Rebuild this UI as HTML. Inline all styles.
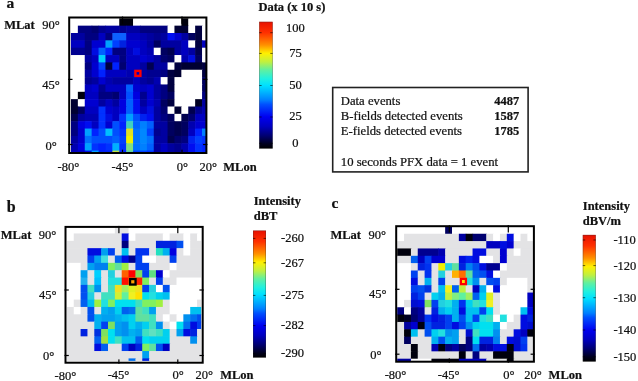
<!DOCTYPE html>
<html><head><meta charset="utf-8"><title>Figure</title>
<style>html,body{margin:0;padding:0;background:#fff}body{width:638px;height:381px;overflow:hidden}</style>
</head><body>
<svg width="638" height="381" viewBox="0 0 638 381" style="display:block">
<defs>
<linearGradient id="jet" x1="0" y1="0" x2="0" y2="1">
<stop offset="0" stop-color="#e81000"/>
<stop offset="0.086" stop-color="#ff3000"/>
<stop offset="0.183" stop-color="#ff9000"/>
<stop offset="0.249" stop-color="#fff000"/>
<stop offset="0.317" stop-color="#c0f040"/>
<stop offset="0.38" stop-color="#60f0a0"/>
<stop offset="0.448" stop-color="#20f0e0"/>
<stop offset="0.503" stop-color="#00e0ff"/>
<stop offset="0.57" stop-color="#00a8ff"/>
<stop offset="0.617" stop-color="#0080ff"/>
<stop offset="0.652" stop-color="#0050ff"/>
<stop offset="0.751" stop-color="#0000f0"/>
<stop offset="0.826" stop-color="#0000c0"/>
<stop offset="0.90" stop-color="#000070"/>
<stop offset="0.963" stop-color="#000020"/>
<stop offset="1" stop-color="#000000"/>
</linearGradient>
<filter id="bl" x="0" y="0" width="638" height="381" filterUnits="userSpaceOnUse"><feGaussianBlur stdDeviation="0.7"/></filter>
</defs>
<rect width="638" height="381" fill="#fff"/>
<g filter="url(#bl)">
<rect x="70.95" y="18.30" width="48.90" height="7.95" fill="#ffffff"/>
<rect x="119.25" y="18.30" width="14.40" height="7.95" fill="#000008"/>
<rect x="133.05" y="18.30" width="48.90" height="7.95" fill="#ffffff"/>
<rect x="181.35" y="18.30" width="7.50" height="7.95" fill="#000008"/>
<rect x="188.25" y="18.30" width="18.15" height="7.95" fill="#ffffff"/>
<rect x="70.95" y="25.65" width="7.50" height="7.95" fill="#ffffff"/>
<rect x="77.85" y="25.65" width="14.40" height="7.95" fill="#000080"/>
<rect x="91.65" y="25.65" width="7.50" height="7.95" fill="#000070"/>
<rect x="98.55" y="25.65" width="7.50" height="7.95" fill="#000090"/>
<rect x="105.45" y="25.65" width="14.40" height="7.95" fill="#0000a0"/>
<rect x="119.25" y="25.65" width="7.50" height="7.95" fill="#000090"/>
<rect x="126.15" y="25.65" width="14.40" height="7.95" fill="#0000a0"/>
<rect x="139.95" y="25.65" width="28.20" height="7.95" fill="#000080"/>
<rect x="167.55" y="25.65" width="7.50" height="7.95" fill="#ffffff"/>
<rect x="174.45" y="25.65" width="14.40" height="7.95" fill="#000030"/>
<rect x="188.25" y="25.65" width="7.50" height="7.95" fill="#ffffff"/>
<rect x="195.15" y="25.65" width="7.50" height="7.95" fill="#000040"/>
<rect x="202.05" y="25.65" width="4.35" height="7.95" fill="#ffffff"/>
<rect x="70.95" y="33.00" width="14.40" height="7.95" fill="#0000a0"/>
<rect x="84.75" y="33.00" width="14.40" height="7.95" fill="#000080"/>
<rect x="98.55" y="33.00" width="7.50" height="7.95" fill="#0000c0"/>
<rect x="105.45" y="33.00" width="7.50" height="7.95" fill="#000080"/>
<rect x="112.35" y="33.00" width="14.40" height="7.95" fill="#1060ff"/>
<rect x="126.15" y="33.00" width="14.40" height="7.95" fill="#0000c0"/>
<rect x="139.95" y="33.00" width="7.50" height="7.95" fill="#0000b0"/>
<rect x="146.85" y="33.00" width="7.50" height="7.95" fill="#0000a0"/>
<rect x="153.75" y="33.00" width="7.50" height="7.95" fill="#000090"/>
<rect x="160.65" y="33.00" width="7.50" height="7.95" fill="#0000a0"/>
<rect x="167.55" y="33.00" width="7.50" height="7.95" fill="#0010f0"/>
<rect x="174.45" y="33.00" width="7.50" height="7.95" fill="#0000d0"/>
<rect x="181.35" y="33.00" width="7.50" height="7.95" fill="#0000a0"/>
<rect x="188.25" y="33.00" width="7.50" height="7.95" fill="#000060"/>
<rect x="195.15" y="33.00" width="7.50" height="7.95" fill="#000040"/>
<rect x="202.05" y="33.00" width="4.35" height="7.95" fill="#ffffff"/>
<rect x="70.95" y="40.35" width="14.40" height="7.95" fill="#0000c0"/>
<rect x="84.75" y="40.35" width="7.50" height="7.95" fill="#000080"/>
<rect x="91.65" y="40.35" width="14.40" height="7.95" fill="#0000d0"/>
<rect x="105.45" y="40.35" width="7.50" height="7.95" fill="#00a0ff"/>
<rect x="112.35" y="40.35" width="7.50" height="7.95" fill="#0040ff"/>
<rect x="119.25" y="40.35" width="7.50" height="7.95" fill="#0020e0"/>
<rect x="126.15" y="40.35" width="14.40" height="7.95" fill="#0000d0"/>
<rect x="139.95" y="40.35" width="7.50" height="7.95" fill="#0000c0"/>
<rect x="146.85" y="40.35" width="7.50" height="7.95" fill="#0000a0"/>
<rect x="153.75" y="40.35" width="7.50" height="7.95" fill="#000060"/>
<rect x="160.65" y="40.35" width="21.30" height="7.95" fill="#0000a0"/>
<rect x="181.35" y="40.35" width="7.50" height="7.95" fill="#0000c0"/>
<rect x="188.25" y="40.35" width="7.50" height="7.95" fill="#ffffff"/>
<rect x="195.15" y="40.35" width="7.50" height="7.95" fill="#000040"/>
<rect x="202.05" y="40.35" width="4.35" height="7.95" fill="#0000c0"/>
<rect x="70.95" y="47.70" width="14.40" height="7.95" fill="#000090"/>
<rect x="84.75" y="47.70" width="7.50" height="7.95" fill="#000080"/>
<rect x="91.65" y="47.70" width="7.50" height="7.95" fill="#0010e0"/>
<rect x="98.55" y="47.70" width="7.50" height="7.95" fill="#0060ff"/>
<rect x="105.45" y="47.70" width="7.50" height="7.95" fill="#0020ff"/>
<rect x="112.35" y="47.70" width="14.40" height="7.95" fill="#000080"/>
<rect x="126.15" y="47.70" width="7.50" height="7.95" fill="#0000c0"/>
<rect x="133.05" y="47.70" width="7.50" height="7.95" fill="#0010e0"/>
<rect x="139.95" y="47.70" width="7.50" height="7.95" fill="#0000c0"/>
<rect x="146.85" y="47.70" width="7.50" height="7.95" fill="#0000b0"/>
<rect x="153.75" y="47.70" width="7.50" height="7.95" fill="#ffffff"/>
<rect x="160.65" y="47.70" width="7.50" height="7.95" fill="#000060"/>
<rect x="167.55" y="47.70" width="7.50" height="7.95" fill="#000050"/>
<rect x="174.45" y="47.70" width="7.50" height="7.95" fill="#0000a0"/>
<rect x="181.35" y="47.70" width="7.50" height="7.95" fill="#0000c0"/>
<rect x="188.25" y="47.70" width="7.50" height="7.95" fill="#0000a0"/>
<rect x="195.15" y="47.70" width="7.50" height="7.95" fill="#000050"/>
<rect x="202.05" y="47.70" width="4.35" height="7.95" fill="#ffffff"/>
<rect x="70.95" y="55.05" width="14.40" height="7.95" fill="#ffffff"/>
<rect x="84.75" y="55.05" width="7.50" height="7.95" fill="#0000a0"/>
<rect x="91.65" y="55.05" width="7.50" height="7.95" fill="#0000c0"/>
<rect x="98.55" y="55.05" width="7.50" height="7.95" fill="#00d0ff"/>
<rect x="105.45" y="55.05" width="14.40" height="7.95" fill="#0000c0"/>
<rect x="119.25" y="55.05" width="7.50" height="7.95" fill="#000080"/>
<rect x="126.15" y="55.05" width="14.40" height="7.95" fill="#0000c0"/>
<rect x="139.95" y="55.05" width="7.50" height="7.95" fill="#0000d0"/>
<rect x="146.85" y="55.05" width="7.50" height="7.95" fill="#0000c0"/>
<rect x="153.75" y="55.05" width="7.50" height="7.95" fill="#0000a0"/>
<rect x="160.65" y="55.05" width="7.50" height="7.95" fill="#000070"/>
<rect x="167.55" y="55.05" width="7.50" height="7.95" fill="#000060"/>
<rect x="174.45" y="55.05" width="7.50" height="7.95" fill="#ffffff"/>
<rect x="181.35" y="55.05" width="7.50" height="7.95" fill="#0000b0"/>
<rect x="188.25" y="55.05" width="7.50" height="7.95" fill="#0010e0"/>
<rect x="195.15" y="55.05" width="7.50" height="7.95" fill="#000060"/>
<rect x="202.05" y="55.05" width="4.35" height="7.95" fill="#ffffff"/>
<rect x="70.95" y="62.40" width="14.40" height="7.95" fill="#ffffff"/>
<rect x="84.75" y="62.40" width="7.50" height="7.95" fill="#000080"/>
<rect x="91.65" y="62.40" width="7.50" height="7.95" fill="#0000d0"/>
<rect x="98.55" y="62.40" width="7.50" height="7.95" fill="#0040ff"/>
<rect x="105.45" y="62.40" width="7.50" height="7.95" fill="#000040"/>
<rect x="112.35" y="62.40" width="7.50" height="7.95" fill="#0020ff"/>
<rect x="119.25" y="62.40" width="7.50" height="7.95" fill="#000070"/>
<rect x="126.15" y="62.40" width="14.40" height="7.95" fill="#0000c0"/>
<rect x="139.95" y="62.40" width="7.50" height="7.95" fill="#0000a0"/>
<rect x="146.85" y="62.40" width="7.50" height="7.95" fill="#000050"/>
<rect x="153.75" y="62.40" width="14.40" height="7.95" fill="#0000a0"/>
<rect x="167.55" y="62.40" width="7.50" height="7.95" fill="#ffffff"/>
<rect x="174.45" y="62.40" width="7.50" height="7.95" fill="#000040"/>
<rect x="181.35" y="62.40" width="21.30" height="7.95" fill="#000030"/>
<rect x="202.05" y="62.40" width="4.35" height="7.95" fill="#000040"/>
<rect x="70.95" y="69.75" width="14.40" height="7.95" fill="#ffffff"/>
<rect x="84.75" y="69.75" width="7.50" height="7.95" fill="#0000a0"/>
<rect x="91.65" y="69.75" width="7.50" height="7.95" fill="#0000d0"/>
<rect x="98.55" y="69.75" width="7.50" height="7.95" fill="#0020ff"/>
<rect x="105.45" y="69.75" width="21.30" height="7.95" fill="#0000c0"/>
<rect x="126.15" y="69.75" width="7.50" height="7.95" fill="#0000b0"/>
<rect x="133.05" y="69.75" width="7.50" height="7.95" fill="#0000c0"/>
<rect x="139.95" y="69.75" width="7.50" height="7.95" fill="#0000a0"/>
<rect x="146.85" y="69.75" width="14.40" height="7.95" fill="#000090"/>
<rect x="160.65" y="69.75" width="7.50" height="7.95" fill="#000080"/>
<rect x="167.55" y="69.75" width="7.50" height="7.95" fill="#000040"/>
<rect x="174.45" y="69.75" width="7.50" height="7.95" fill="#000030"/>
<rect x="181.35" y="69.75" width="21.30" height="7.95" fill="#ffffff"/>
<rect x="202.05" y="69.75" width="4.35" height="7.95" fill="#000040"/>
<rect x="70.95" y="77.10" width="14.40" height="7.95" fill="#ffffff"/>
<rect x="84.75" y="77.10" width="7.50" height="7.95" fill="#000090"/>
<rect x="91.65" y="77.10" width="7.50" height="7.95" fill="#0000a0"/>
<rect x="98.55" y="77.10" width="7.50" height="7.95" fill="#0000d0"/>
<rect x="105.45" y="77.10" width="7.50" height="7.95" fill="#0000b0"/>
<rect x="112.35" y="77.10" width="21.30" height="7.95" fill="#0000a0"/>
<rect x="133.05" y="77.10" width="7.50" height="7.95" fill="#0000c0"/>
<rect x="139.95" y="77.10" width="7.50" height="7.95" fill="#0000a0"/>
<rect x="146.85" y="77.10" width="7.50" height="7.95" fill="#000090"/>
<rect x="153.75" y="77.10" width="7.50" height="7.95" fill="#0000b0"/>
<rect x="160.65" y="77.10" width="7.50" height="7.95" fill="#ffffff"/>
<rect x="167.55" y="77.10" width="7.50" height="7.95" fill="#000040"/>
<rect x="174.45" y="77.10" width="28.20" height="7.95" fill="#ffffff"/>
<rect x="202.05" y="77.10" width="4.35" height="7.95" fill="#000060"/>
<rect x="70.95" y="84.45" width="14.40" height="7.95" fill="#ffffff"/>
<rect x="84.75" y="84.45" width="7.50" height="7.95" fill="#0000c0"/>
<rect x="91.65" y="84.45" width="7.50" height="7.95" fill="#0000d0"/>
<rect x="98.55" y="84.45" width="7.50" height="7.95" fill="#000090"/>
<rect x="105.45" y="84.45" width="21.30" height="7.95" fill="#0000c0"/>
<rect x="126.15" y="84.45" width="7.50" height="7.95" fill="#0060ff"/>
<rect x="133.05" y="84.45" width="7.50" height="7.95" fill="#0000d0"/>
<rect x="139.95" y="84.45" width="7.50" height="7.95" fill="#0000c0"/>
<rect x="146.85" y="84.45" width="7.50" height="7.95" fill="#0000d0"/>
<rect x="153.75" y="84.45" width="7.50" height="7.95" fill="#0000a0"/>
<rect x="160.65" y="84.45" width="7.50" height="7.95" fill="#000080"/>
<rect x="167.55" y="84.45" width="7.50" height="7.95" fill="#000040"/>
<rect x="174.45" y="84.45" width="28.20" height="7.95" fill="#ffffff"/>
<rect x="202.05" y="84.45" width="4.35" height="7.95" fill="#000060"/>
<rect x="70.95" y="91.80" width="7.50" height="7.95" fill="#ffffff"/>
<rect x="77.85" y="91.80" width="7.50" height="7.95" fill="#000008"/>
<rect x="84.75" y="91.80" width="14.40" height="7.95" fill="#0000c0"/>
<rect x="98.55" y="91.80" width="14.40" height="7.95" fill="#000080"/>
<rect x="112.35" y="91.80" width="7.50" height="7.95" fill="#000070"/>
<rect x="119.25" y="91.80" width="7.50" height="7.95" fill="#0000c0"/>
<rect x="126.15" y="91.80" width="7.50" height="7.95" fill="#0050ff"/>
<rect x="133.05" y="91.80" width="7.50" height="7.95" fill="#0000e0"/>
<rect x="139.95" y="91.80" width="7.50" height="7.95" fill="#000090"/>
<rect x="146.85" y="91.80" width="7.50" height="7.95" fill="#0000d0"/>
<rect x="153.75" y="91.80" width="7.50" height="7.95" fill="#0000a0"/>
<rect x="160.65" y="91.80" width="7.50" height="7.95" fill="#000080"/>
<rect x="167.55" y="91.80" width="7.50" height="7.95" fill="#000060"/>
<rect x="174.45" y="91.80" width="28.20" height="7.95" fill="#ffffff"/>
<rect x="202.05" y="91.80" width="4.35" height="7.95" fill="#000080"/>
<rect x="70.95" y="99.15" width="7.50" height="7.95" fill="#000030"/>
<rect x="77.85" y="99.15" width="7.50" height="7.95" fill="#ffffff"/>
<rect x="84.75" y="99.15" width="14.40" height="7.95" fill="#0000d0"/>
<rect x="98.55" y="99.15" width="7.50" height="7.95" fill="#0000a0"/>
<rect x="105.45" y="99.15" width="7.50" height="7.95" fill="#0000c0"/>
<rect x="112.35" y="99.15" width="7.50" height="7.95" fill="#0000a0"/>
<rect x="119.25" y="99.15" width="7.50" height="7.95" fill="#0000e0"/>
<rect x="126.15" y="99.15" width="7.50" height="7.95" fill="#0060ff"/>
<rect x="133.05" y="99.15" width="7.50" height="7.95" fill="#0010f0"/>
<rect x="139.95" y="99.15" width="7.50" height="7.95" fill="#0000a0"/>
<rect x="146.85" y="99.15" width="7.50" height="7.95" fill="#0000d0"/>
<rect x="153.75" y="99.15" width="7.50" height="7.95" fill="#0000b0"/>
<rect x="160.65" y="99.15" width="7.50" height="7.95" fill="#000060"/>
<rect x="167.55" y="99.15" width="7.50" height="7.95" fill="#000040"/>
<rect x="174.45" y="99.15" width="21.30" height="7.95" fill="#ffffff"/>
<rect x="195.15" y="99.15" width="7.50" height="7.95" fill="#000020"/>
<rect x="202.05" y="99.15" width="4.35" height="7.95" fill="#0000a0"/>
<rect x="70.95" y="106.50" width="7.50" height="7.95" fill="#000030"/>
<rect x="77.85" y="106.50" width="7.50" height="7.95" fill="#000060"/>
<rect x="84.75" y="106.50" width="14.40" height="7.95" fill="#0000c0"/>
<rect x="98.55" y="106.50" width="7.50" height="7.95" fill="#0030ff"/>
<rect x="105.45" y="106.50" width="7.50" height="7.95" fill="#0000d0"/>
<rect x="112.35" y="106.50" width="7.50" height="7.95" fill="#0000c0"/>
<rect x="119.25" y="106.50" width="7.50" height="7.95" fill="#0000e0"/>
<rect x="126.15" y="106.50" width="7.50" height="7.95" fill="#0060ff"/>
<rect x="133.05" y="106.50" width="7.50" height="7.95" fill="#0010f0"/>
<rect x="139.95" y="106.50" width="7.50" height="7.95" fill="#0000c0"/>
<rect x="146.85" y="106.50" width="7.50" height="7.95" fill="#0010e0"/>
<rect x="153.75" y="106.50" width="7.50" height="7.95" fill="#0000a0"/>
<rect x="160.65" y="106.50" width="7.50" height="7.95" fill="#000070"/>
<rect x="167.55" y="106.50" width="7.50" height="7.95" fill="#ffffff"/>
<rect x="174.45" y="106.50" width="7.50" height="7.95" fill="#000030"/>
<rect x="181.35" y="106.50" width="7.50" height="7.95" fill="#ffffff"/>
<rect x="188.25" y="106.50" width="7.50" height="7.95" fill="#000050"/>
<rect x="195.15" y="106.50" width="7.50" height="7.95" fill="#000090"/>
<rect x="202.05" y="106.50" width="4.35" height="7.95" fill="#0000b0"/>
<rect x="70.95" y="113.85" width="7.50" height="7.95" fill="#000050"/>
<rect x="77.85" y="113.85" width="7.50" height="7.95" fill="#0000a0"/>
<rect x="84.75" y="113.85" width="14.40" height="7.95" fill="#0000b0"/>
<rect x="98.55" y="113.85" width="7.50" height="7.95" fill="#0030ff"/>
<rect x="105.45" y="113.85" width="7.50" height="7.95" fill="#0010e0"/>
<rect x="112.35" y="113.85" width="7.50" height="7.95" fill="#0000c0"/>
<rect x="119.25" y="113.85" width="7.50" height="7.95" fill="#0030ff"/>
<rect x="126.15" y="113.85" width="7.50" height="7.95" fill="#00a0ff"/>
<rect x="133.05" y="113.85" width="7.50" height="7.95" fill="#0050ff"/>
<rect x="139.95" y="113.85" width="7.50" height="7.95" fill="#0020f0"/>
<rect x="146.85" y="113.85" width="7.50" height="7.95" fill="#0010f0"/>
<rect x="153.75" y="113.85" width="7.50" height="7.95" fill="#0000a0"/>
<rect x="160.65" y="113.85" width="7.50" height="7.95" fill="#000080"/>
<rect x="167.55" y="113.85" width="7.50" height="7.95" fill="#000060"/>
<rect x="174.45" y="113.85" width="7.50" height="7.95" fill="#ffffff"/>
<rect x="181.35" y="113.85" width="7.50" height="7.95" fill="#000050"/>
<rect x="188.25" y="113.85" width="7.50" height="7.95" fill="#000070"/>
<rect x="195.15" y="113.85" width="11.25" height="7.95" fill="#0000c0"/>
<rect x="70.95" y="121.20" width="7.50" height="7.95" fill="#000080"/>
<rect x="77.85" y="121.20" width="7.50" height="7.95" fill="#0000e0"/>
<rect x="84.75" y="121.20" width="7.50" height="7.95" fill="#0010f0"/>
<rect x="91.65" y="121.20" width="7.50" height="7.95" fill="#0000c0"/>
<rect x="98.55" y="121.20" width="7.50" height="7.95" fill="#0030ff"/>
<rect x="105.45" y="121.20" width="7.50" height="7.95" fill="#0000d0"/>
<rect x="112.35" y="121.20" width="7.50" height="7.95" fill="#0050ff"/>
<rect x="119.25" y="121.20" width="7.50" height="7.95" fill="#0020ff"/>
<rect x="126.15" y="121.20" width="7.50" height="7.95" fill="#40d0c0"/>
<rect x="133.05" y="121.20" width="7.50" height="7.95" fill="#0060ff"/>
<rect x="139.95" y="121.20" width="7.50" height="7.95" fill="#0080ff"/>
<rect x="146.85" y="121.20" width="7.50" height="7.95" fill="#0060ff"/>
<rect x="153.75" y="121.20" width="14.40" height="7.95" fill="#0000a0"/>
<rect x="167.55" y="121.20" width="7.50" height="7.95" fill="#000060"/>
<rect x="174.45" y="121.20" width="7.50" height="7.95" fill="#000050"/>
<rect x="181.35" y="121.20" width="7.50" height="7.95" fill="#000060"/>
<rect x="188.25" y="121.20" width="7.50" height="7.95" fill="#0000b0"/>
<rect x="195.15" y="121.20" width="11.25" height="7.95" fill="#0000d0"/>
<rect x="70.95" y="128.55" width="7.50" height="7.95" fill="#000080"/>
<rect x="77.85" y="128.55" width="7.50" height="7.95" fill="#0000d0"/>
<rect x="84.75" y="128.55" width="7.50" height="7.95" fill="#00a0ff"/>
<rect x="91.65" y="128.55" width="7.50" height="7.95" fill="#0020ff"/>
<rect x="98.55" y="128.55" width="7.50" height="7.95" fill="#0050ff"/>
<rect x="105.45" y="128.55" width="7.50" height="7.95" fill="#00c0ff"/>
<rect x="112.35" y="128.55" width="7.50" height="7.95" fill="#0050ff"/>
<rect x="119.25" y="128.55" width="7.50" height="7.95" fill="#0030ff"/>
<rect x="126.15" y="128.55" width="7.50" height="7.95" fill="#e0e020"/>
<rect x="133.05" y="128.55" width="7.50" height="7.95" fill="#0070ff"/>
<rect x="139.95" y="128.55" width="7.50" height="7.95" fill="#0088ff"/>
<rect x="146.85" y="128.55" width="7.50" height="7.95" fill="#0040ff"/>
<rect x="153.75" y="128.55" width="7.50" height="7.95" fill="#000090"/>
<rect x="160.65" y="128.55" width="7.50" height="7.95" fill="#0000a0"/>
<rect x="167.55" y="128.55" width="7.50" height="7.95" fill="#000060"/>
<rect x="174.45" y="128.55" width="7.50" height="7.95" fill="#000050"/>
<rect x="181.35" y="128.55" width="7.50" height="7.95" fill="#000060"/>
<rect x="188.25" y="128.55" width="7.50" height="7.95" fill="#0000c0"/>
<rect x="195.15" y="128.55" width="7.50" height="7.95" fill="#0020ff"/>
<rect x="202.05" y="128.55" width="4.35" height="7.95" fill="#0080ff"/>
<rect x="70.95" y="135.90" width="7.50" height="7.95" fill="#0000a0"/>
<rect x="77.85" y="135.90" width="7.50" height="7.95" fill="#0000d0"/>
<rect x="84.75" y="135.90" width="7.50" height="7.95" fill="#0070ff"/>
<rect x="91.65" y="135.90" width="21.30" height="7.95" fill="#0050ff"/>
<rect x="112.35" y="135.90" width="7.50" height="7.95" fill="#0060ff"/>
<rect x="119.25" y="135.90" width="7.50" height="7.95" fill="#0040ff"/>
<rect x="126.15" y="135.90" width="7.50" height="7.95" fill="#f0f000"/>
<rect x="133.05" y="135.90" width="7.50" height="7.95" fill="#0070ff"/>
<rect x="139.95" y="135.90" width="7.50" height="7.95" fill="#0088ff"/>
<rect x="146.85" y="135.90" width="7.50" height="7.95" fill="#0070ff"/>
<rect x="153.75" y="135.90" width="14.40" height="7.95" fill="#0000a0"/>
<rect x="167.55" y="135.90" width="7.50" height="7.95" fill="#000050"/>
<rect x="174.45" y="135.90" width="7.50" height="7.95" fill="#000070"/>
<rect x="181.35" y="135.90" width="7.50" height="7.95" fill="#000080"/>
<rect x="188.25" y="135.90" width="7.50" height="7.95" fill="#0020f0"/>
<rect x="195.15" y="135.90" width="7.50" height="7.95" fill="#0040ff"/>
<rect x="202.05" y="135.90" width="4.35" height="7.95" fill="#0030ff"/>
<rect x="70.95" y="143.25" width="7.50" height="7.95" fill="#0000b0"/>
<rect x="77.85" y="143.25" width="7.50" height="7.95" fill="#0000e0"/>
<rect x="84.75" y="143.25" width="7.50" height="7.95" fill="#00a0ff"/>
<rect x="91.65" y="143.25" width="7.50" height="7.95" fill="#0030ff"/>
<rect x="98.55" y="143.25" width="7.50" height="7.95" fill="#0020ff"/>
<rect x="105.45" y="143.25" width="7.50" height="7.95" fill="#0030ff"/>
<rect x="112.35" y="143.25" width="7.50" height="7.95" fill="#00b0ff"/>
<rect x="119.25" y="143.25" width="7.50" height="7.95" fill="#0030ff"/>
<rect x="126.15" y="143.25" width="7.50" height="7.95" fill="#80e080"/>
<rect x="133.05" y="143.25" width="7.50" height="7.95" fill="#0070ff"/>
<rect x="139.95" y="143.25" width="7.50" height="7.95" fill="#0080ff"/>
<rect x="146.85" y="143.25" width="7.50" height="7.95" fill="#0060ff"/>
<rect x="153.75" y="143.25" width="7.50" height="7.95" fill="#0000a0"/>
<rect x="160.65" y="143.25" width="7.50" height="7.95" fill="#0000c0"/>
<rect x="167.55" y="143.25" width="7.50" height="7.95" fill="#0000a0"/>
<rect x="174.45" y="143.25" width="7.50" height="7.95" fill="#000090"/>
<rect x="181.35" y="143.25" width="7.50" height="7.95" fill="#0000b0"/>
<rect x="188.25" y="143.25" width="7.50" height="7.95" fill="#0010f0"/>
<rect x="195.15" y="143.25" width="7.50" height="7.95" fill="#0030ff"/>
<rect x="202.05" y="143.25" width="4.35" height="7.95" fill="#0020ff"/>
<rect x="70.95" y="150.60" width="14.40" height="2.40" fill="#0000c0"/>
<rect x="84.75" y="150.60" width="7.50" height="2.40" fill="#0010e0"/>
<rect x="91.65" y="150.60" width="7.50" height="2.40" fill="#00a0ff"/>
<rect x="98.55" y="150.60" width="14.40" height="2.40" fill="#0020f0"/>
<rect x="112.35" y="150.60" width="7.50" height="2.40" fill="#c0e040"/>
<rect x="119.25" y="150.60" width="7.50" height="2.40" fill="#0020ff"/>
<rect x="126.15" y="150.60" width="7.50" height="2.40" fill="#60d0a0"/>
<rect x="133.05" y="150.60" width="14.40" height="2.40" fill="#0040ff"/>
<rect x="146.85" y="150.60" width="7.50" height="2.40" fill="#0030ff"/>
<rect x="153.75" y="150.60" width="7.50" height="2.40" fill="#0000a0"/>
<rect x="160.65" y="150.60" width="7.50" height="2.40" fill="#0000c0"/>
<rect x="167.55" y="150.60" width="7.50" height="2.40" fill="#0000a0"/>
<rect x="174.45" y="150.60" width="7.50" height="2.40" fill="#000090"/>
<rect x="181.35" y="150.60" width="7.50" height="2.40" fill="#0000b0"/>
<rect x="188.25" y="150.60" width="7.50" height="2.40" fill="#0010f0"/>
<rect x="195.15" y="150.60" width="7.50" height="2.40" fill="#0030ff"/>
<rect x="202.05" y="150.60" width="4.35" height="2.40" fill="#0020ff"/>
<rect x="66.90" y="226.90" width="48.55" height="7.15" fill="#ffffff"/>
<rect x="114.85" y="226.90" width="14.30" height="7.15" fill="#e3e3e5"/>
<rect x="128.55" y="226.90" width="72.65" height="7.15" fill="#ffffff"/>
<rect x="66.90" y="233.45" width="7.45" height="7.95" fill="#ffffff"/>
<rect x="73.75" y="233.45" width="48.55" height="7.95" fill="#e3e3e5"/>
<rect x="121.70" y="233.45" width="7.45" height="7.95" fill="#0010e0"/>
<rect x="128.55" y="233.45" width="7.45" height="7.95" fill="#ffffff"/>
<rect x="135.40" y="233.45" width="28.00" height="7.95" fill="#e3e3e5"/>
<rect x="162.80" y="233.45" width="7.45" height="7.95" fill="#ffffff"/>
<rect x="169.65" y="233.45" width="14.30" height="7.95" fill="#e3e3e5"/>
<rect x="183.35" y="233.45" width="7.45" height="7.95" fill="#ffffff"/>
<rect x="190.20" y="233.45" width="7.45" height="7.95" fill="#e3e3e5"/>
<rect x="197.05" y="233.45" width="4.15" height="7.95" fill="#ffffff"/>
<rect x="66.90" y="240.80" width="55.40" height="7.95" fill="#e3e3e5"/>
<rect x="121.70" y="240.80" width="7.45" height="7.95" fill="#000080"/>
<rect x="128.55" y="240.80" width="28.00" height="7.95" fill="#e3e3e5"/>
<rect x="155.95" y="240.80" width="21.15" height="7.95" fill="#0020e0"/>
<rect x="176.50" y="240.80" width="7.45" height="7.95" fill="#0050f0"/>
<rect x="183.35" y="240.80" width="7.45" height="7.95" fill="#ffffff"/>
<rect x="190.20" y="240.80" width="11.00" height="7.95" fill="#e3e3e5"/>
<rect x="66.90" y="248.15" width="21.15" height="7.95" fill="#e3e3e5"/>
<rect x="87.45" y="248.15" width="14.30" height="7.95" fill="#0010e0"/>
<rect x="101.15" y="248.15" width="7.45" height="7.95" fill="#00a0f0"/>
<rect x="108.00" y="248.15" width="7.45" height="7.95" fill="#0040f0"/>
<rect x="114.85" y="248.15" width="7.45" height="7.95" fill="#e3e3e5"/>
<rect x="121.70" y="248.15" width="7.45" height="7.95" fill="#00c0f0"/>
<rect x="128.55" y="248.15" width="7.45" height="7.95" fill="#e3e3e5"/>
<rect x="135.40" y="248.15" width="14.30" height="7.95" fill="#0030f0"/>
<rect x="149.10" y="248.15" width="7.45" height="7.95" fill="#e3e3e5"/>
<rect x="155.95" y="248.15" width="7.45" height="7.95" fill="#20e0c0"/>
<rect x="162.80" y="248.15" width="7.45" height="7.95" fill="#00b0f0"/>
<rect x="169.65" y="248.15" width="7.45" height="7.95" fill="#0000e0"/>
<rect x="176.50" y="248.15" width="7.45" height="7.95" fill="#e3e3e5"/>
<rect x="183.35" y="248.15" width="7.45" height="7.95" fill="#ffffff"/>
<rect x="190.20" y="248.15" width="11.00" height="7.95" fill="#e3e3e5"/>
<rect x="66.90" y="255.50" width="21.15" height="7.95" fill="#e3e3e5"/>
<rect x="87.45" y="255.50" width="7.45" height="7.95" fill="#0040f0"/>
<rect x="94.30" y="255.50" width="7.45" height="7.95" fill="#00a0f0"/>
<rect x="101.15" y="255.50" width="7.45" height="7.95" fill="#40e0e0"/>
<rect x="108.00" y="255.50" width="7.45" height="7.95" fill="#e3e3e5"/>
<rect x="114.85" y="255.50" width="7.45" height="7.95" fill="#0060f0"/>
<rect x="121.70" y="255.50" width="7.45" height="7.95" fill="#0010e0"/>
<rect x="128.55" y="255.50" width="7.45" height="7.95" fill="#000090"/>
<rect x="135.40" y="255.50" width="7.45" height="7.95" fill="#0040f0"/>
<rect x="142.25" y="255.50" width="14.30" height="7.95" fill="#ffffff"/>
<rect x="155.95" y="255.50" width="14.30" height="7.95" fill="#e3e3e5"/>
<rect x="169.65" y="255.50" width="7.45" height="7.95" fill="#0040f0"/>
<rect x="176.50" y="255.50" width="24.70" height="7.95" fill="#e3e3e5"/>
<rect x="66.90" y="262.85" width="14.30" height="7.95" fill="#ffffff"/>
<rect x="80.60" y="262.85" width="7.45" height="7.95" fill="#e3e3e5"/>
<rect x="87.45" y="262.85" width="7.45" height="7.95" fill="#00a0f0"/>
<rect x="94.30" y="262.85" width="14.30" height="7.95" fill="#0080f0"/>
<rect x="108.00" y="262.85" width="7.45" height="7.95" fill="#80f060"/>
<rect x="114.85" y="262.85" width="7.45" height="7.95" fill="#60e0a0"/>
<rect x="121.70" y="262.85" width="7.45" height="7.95" fill="#a0f040"/>
<rect x="128.55" y="262.85" width="7.45" height="7.95" fill="#e3e3e5"/>
<rect x="135.40" y="262.85" width="14.30" height="7.95" fill="#0040f0"/>
<rect x="149.10" y="262.85" width="21.15" height="7.95" fill="#e3e3e5"/>
<rect x="169.65" y="262.85" width="7.45" height="7.95" fill="#ffffff"/>
<rect x="176.50" y="262.85" width="24.70" height="7.95" fill="#e3e3e5"/>
<rect x="66.90" y="270.20" width="14.30" height="7.95" fill="#ffffff"/>
<rect x="80.60" y="270.20" width="7.45" height="7.95" fill="#00a0f0"/>
<rect x="87.45" y="270.20" width="7.45" height="7.95" fill="#e3e3e5"/>
<rect x="94.30" y="270.20" width="7.45" height="7.95" fill="#00d0ff"/>
<rect x="101.15" y="270.20" width="7.45" height="7.95" fill="#e3e3e5"/>
<rect x="108.00" y="270.20" width="7.45" height="7.95" fill="#20d0e0"/>
<rect x="114.85" y="270.20" width="7.45" height="7.95" fill="#e3e3e5"/>
<rect x="121.70" y="270.20" width="7.45" height="7.95" fill="#ff6000"/>
<rect x="128.55" y="270.20" width="7.45" height="7.95" fill="#ff0000"/>
<rect x="135.40" y="270.20" width="7.45" height="7.95" fill="#80e060"/>
<rect x="142.25" y="270.20" width="7.45" height="7.95" fill="#0040f0"/>
<rect x="149.10" y="270.20" width="7.45" height="7.95" fill="#60e080"/>
<rect x="155.95" y="270.20" width="7.45" height="7.95" fill="#0000d0"/>
<rect x="162.80" y="270.20" width="7.45" height="7.95" fill="#ffffff"/>
<rect x="169.65" y="270.20" width="31.55" height="7.95" fill="#e3e3e5"/>
<rect x="66.90" y="277.55" width="14.30" height="7.95" fill="#ffffff"/>
<rect x="80.60" y="277.55" width="7.45" height="7.95" fill="#20b0f0"/>
<rect x="87.45" y="277.55" width="7.45" height="7.95" fill="#e3e3e5"/>
<rect x="94.30" y="277.55" width="7.45" height="7.95" fill="#00c0ff"/>
<rect x="101.15" y="277.55" width="7.45" height="7.95" fill="#e3e3e5"/>
<rect x="108.00" y="277.55" width="14.30" height="7.95" fill="#20e0e0"/>
<rect x="121.70" y="277.55" width="7.45" height="7.95" fill="#ff1000"/>
<rect x="128.55" y="277.55" width="7.45" height="7.95" fill="#ffa000"/>
<rect x="135.40" y="277.55" width="7.45" height="7.95" fill="#ff2000"/>
<rect x="142.25" y="277.55" width="7.45" height="7.95" fill="#80f060"/>
<rect x="149.10" y="277.55" width="7.45" height="7.95" fill="#e3e3e5"/>
<rect x="155.95" y="277.55" width="7.45" height="7.95" fill="#0040f0"/>
<rect x="162.80" y="277.55" width="14.30" height="7.95" fill="#e3e3e5"/>
<rect x="176.50" y="277.55" width="24.70" height="7.95" fill="#ffffff"/>
<rect x="66.90" y="284.90" width="14.30" height="7.95" fill="#ffffff"/>
<rect x="80.60" y="284.90" width="7.45" height="7.95" fill="#0050f0"/>
<rect x="87.45" y="284.90" width="7.45" height="7.95" fill="#40e0c0"/>
<rect x="94.30" y="284.90" width="7.45" height="7.95" fill="#0090f0"/>
<rect x="101.15" y="284.90" width="7.45" height="7.95" fill="#e3e3e5"/>
<rect x="108.00" y="284.90" width="7.45" height="7.95" fill="#40e0c0"/>
<rect x="114.85" y="284.90" width="7.45" height="7.95" fill="#f0e020"/>
<rect x="121.70" y="284.90" width="7.45" height="7.95" fill="#a0f060"/>
<rect x="128.55" y="284.90" width="7.45" height="7.95" fill="#e0f020"/>
<rect x="135.40" y="284.90" width="7.45" height="7.95" fill="#f0e020"/>
<rect x="142.25" y="284.90" width="7.45" height="7.95" fill="#0040f0"/>
<rect x="149.10" y="284.90" width="7.45" height="7.95" fill="#20d0e0"/>
<rect x="155.95" y="284.90" width="7.45" height="7.95" fill="#ffffff"/>
<rect x="162.80" y="284.90" width="7.45" height="7.95" fill="#0050f0"/>
<rect x="169.65" y="284.90" width="31.55" height="7.95" fill="#ffffff"/>
<rect x="66.90" y="292.25" width="14.30" height="7.95" fill="#ffffff"/>
<rect x="80.60" y="292.25" width="7.45" height="7.95" fill="#0050f0"/>
<rect x="87.45" y="292.25" width="7.45" height="7.95" fill="#20d0e0"/>
<rect x="94.30" y="292.25" width="7.45" height="7.95" fill="#e3e3e5"/>
<rect x="101.15" y="292.25" width="14.30" height="7.95" fill="#40e0c0"/>
<rect x="114.85" y="292.25" width="7.45" height="7.95" fill="#d0f030"/>
<rect x="121.70" y="292.25" width="7.45" height="7.95" fill="#60f0a0"/>
<rect x="128.55" y="292.25" width="7.45" height="7.95" fill="#f0f020"/>
<rect x="135.40" y="292.25" width="7.45" height="7.95" fill="#ffe000"/>
<rect x="142.25" y="292.25" width="7.45" height="7.95" fill="#00e0f0"/>
<rect x="149.10" y="292.25" width="7.45" height="7.95" fill="#20e0e0"/>
<rect x="155.95" y="292.25" width="7.45" height="7.95" fill="#00d0f0"/>
<rect x="162.80" y="292.25" width="7.45" height="7.95" fill="#00c0f0"/>
<rect x="169.65" y="292.25" width="31.55" height="7.95" fill="#ffffff"/>
<rect x="66.90" y="299.60" width="7.45" height="7.95" fill="#ffffff"/>
<rect x="73.75" y="299.60" width="7.45" height="7.95" fill="#e3e3e5"/>
<rect x="80.60" y="299.60" width="7.45" height="7.95" fill="#0060f0"/>
<rect x="87.45" y="299.60" width="7.45" height="7.95" fill="#00c0f0"/>
<rect x="94.30" y="299.60" width="7.45" height="7.95" fill="#a0f040"/>
<rect x="101.15" y="299.60" width="7.45" height="7.95" fill="#20e0e0"/>
<rect x="108.00" y="299.60" width="7.45" height="7.95" fill="#80f060"/>
<rect x="114.85" y="299.60" width="21.15" height="7.95" fill="#00e0f0"/>
<rect x="135.40" y="299.60" width="7.45" height="7.95" fill="#40e0c0"/>
<rect x="142.25" y="299.60" width="14.30" height="7.95" fill="#80f060"/>
<rect x="155.95" y="299.60" width="7.45" height="7.95" fill="#a0f040"/>
<rect x="162.80" y="299.60" width="7.45" height="7.95" fill="#e3e3e5"/>
<rect x="169.65" y="299.60" width="28.00" height="7.95" fill="#ffffff"/>
<rect x="197.05" y="299.60" width="4.15" height="7.95" fill="#e3e3e5"/>
<rect x="66.90" y="306.95" width="7.45" height="7.95" fill="#e3e3e5"/>
<rect x="73.75" y="306.95" width="7.45" height="7.95" fill="#ffffff"/>
<rect x="80.60" y="306.95" width="7.45" height="7.95" fill="#e3e3e5"/>
<rect x="87.45" y="306.95" width="7.45" height="7.95" fill="#0050f0"/>
<rect x="94.30" y="306.95" width="7.45" height="7.95" fill="#e3e3e5"/>
<rect x="101.15" y="306.95" width="7.45" height="7.95" fill="#00b0f0"/>
<rect x="108.00" y="306.95" width="7.45" height="7.95" fill="#00a0f0"/>
<rect x="114.85" y="306.95" width="7.45" height="7.95" fill="#00d0f0"/>
<rect x="121.70" y="306.95" width="7.45" height="7.95" fill="#0060f0"/>
<rect x="128.55" y="306.95" width="7.45" height="7.95" fill="#0070f0"/>
<rect x="135.40" y="306.95" width="7.45" height="7.95" fill="#60e0a0"/>
<rect x="142.25" y="306.95" width="7.45" height="7.95" fill="#40e0c0"/>
<rect x="149.10" y="306.95" width="7.45" height="7.95" fill="#00a0f0"/>
<rect x="155.95" y="306.95" width="14.30" height="7.95" fill="#e3e3e5"/>
<rect x="169.65" y="306.95" width="21.15" height="7.95" fill="#ffffff"/>
<rect x="190.20" y="306.95" width="11.00" height="7.95" fill="#00c0f0"/>
<rect x="66.90" y="314.30" width="21.15" height="7.95" fill="#e3e3e5"/>
<rect x="87.45" y="314.30" width="7.45" height="7.95" fill="#0050f0"/>
<rect x="94.30" y="314.30" width="7.45" height="7.95" fill="#00b0f0"/>
<rect x="101.15" y="314.30" width="14.30" height="7.95" fill="#00a0f0"/>
<rect x="114.85" y="314.30" width="7.45" height="7.95" fill="#00b0f0"/>
<rect x="121.70" y="314.30" width="7.45" height="7.95" fill="#00c0f0"/>
<rect x="128.55" y="314.30" width="7.45" height="7.95" fill="#00d0f0"/>
<rect x="135.40" y="314.30" width="14.30" height="7.95" fill="#60e0a0"/>
<rect x="149.10" y="314.30" width="7.45" height="7.95" fill="#40e0c0"/>
<rect x="155.95" y="314.30" width="7.45" height="7.95" fill="#e3e3e5"/>
<rect x="162.80" y="314.30" width="7.45" height="7.95" fill="#ffffff"/>
<rect x="169.65" y="314.30" width="7.45" height="7.95" fill="#e3e3e5"/>
<rect x="176.50" y="314.30" width="7.45" height="7.95" fill="#ffffff"/>
<rect x="183.35" y="314.30" width="7.45" height="7.95" fill="#0090f0"/>
<rect x="190.20" y="314.30" width="7.45" height="7.95" fill="#0070f0"/>
<rect x="197.05" y="314.30" width="4.15" height="7.95" fill="#0050f0"/>
<rect x="66.90" y="321.65" width="28.00" height="7.95" fill="#e3e3e5"/>
<rect x="94.30" y="321.65" width="7.45" height="7.95" fill="#00b0f0"/>
<rect x="101.15" y="321.65" width="7.45" height="7.95" fill="#0040f0"/>
<rect x="108.00" y="321.65" width="7.45" height="7.95" fill="#80e060"/>
<rect x="114.85" y="321.65" width="7.45" height="7.95" fill="#00a0f0"/>
<rect x="121.70" y="321.65" width="7.45" height="7.95" fill="#0090f0"/>
<rect x="128.55" y="321.65" width="7.45" height="7.95" fill="#00d0f0"/>
<rect x="135.40" y="321.65" width="7.45" height="7.95" fill="#00b0f0"/>
<rect x="142.25" y="321.65" width="7.45" height="7.95" fill="#00d0f0"/>
<rect x="149.10" y="321.65" width="7.45" height="7.95" fill="#40e0c0"/>
<rect x="155.95" y="321.65" width="7.45" height="7.95" fill="#0090f0"/>
<rect x="162.80" y="321.65" width="7.45" height="7.95" fill="#e3e3e5"/>
<rect x="169.65" y="321.65" width="7.45" height="7.95" fill="#ffffff"/>
<rect x="176.50" y="321.65" width="7.45" height="7.95" fill="#00e0f0"/>
<rect x="183.35" y="321.65" width="7.45" height="7.95" fill="#0070f0"/>
<rect x="190.20" y="321.65" width="7.45" height="7.95" fill="#0010e0"/>
<rect x="197.05" y="321.65" width="4.15" height="7.95" fill="#0040f0"/>
<rect x="66.90" y="329.00" width="14.30" height="7.95" fill="#e3e3e5"/>
<rect x="80.60" y="329.00" width="7.45" height="7.95" fill="#0020e0"/>
<rect x="87.45" y="329.00" width="7.45" height="7.95" fill="#e3e3e5"/>
<rect x="94.30" y="329.00" width="7.45" height="7.95" fill="#0030e0"/>
<rect x="101.15" y="329.00" width="7.45" height="7.95" fill="#80e060"/>
<rect x="108.00" y="329.00" width="7.45" height="7.95" fill="#00e0f0"/>
<rect x="114.85" y="329.00" width="7.45" height="7.95" fill="#00a0f0"/>
<rect x="121.70" y="329.00" width="7.45" height="7.95" fill="#0090f0"/>
<rect x="128.55" y="329.00" width="7.45" height="7.95" fill="#00b0f0"/>
<rect x="135.40" y="329.00" width="7.45" height="7.95" fill="#00a0f0"/>
<rect x="142.25" y="329.00" width="7.45" height="7.95" fill="#40e0c0"/>
<rect x="149.10" y="329.00" width="7.45" height="7.95" fill="#60e0c0"/>
<rect x="155.95" y="329.00" width="7.45" height="7.95" fill="#40e0c0"/>
<rect x="162.80" y="329.00" width="7.45" height="7.95" fill="#00d0f0"/>
<rect x="169.65" y="329.00" width="7.45" height="7.95" fill="#e3e3e5"/>
<rect x="176.50" y="329.00" width="7.45" height="7.95" fill="#00a0f0"/>
<rect x="183.35" y="329.00" width="7.45" height="7.95" fill="#0010e0"/>
<rect x="190.20" y="329.00" width="7.45" height="7.95" fill="#0020e0"/>
<rect x="197.05" y="329.00" width="4.15" height="7.95" fill="#e3e3e5"/>
<rect x="66.90" y="336.35" width="28.00" height="7.95" fill="#e3e3e5"/>
<rect x="94.30" y="336.35" width="7.45" height="7.95" fill="#0060f0"/>
<rect x="101.15" y="336.35" width="7.45" height="7.95" fill="#a0e040"/>
<rect x="108.00" y="336.35" width="7.45" height="7.95" fill="#00e0f0"/>
<rect x="114.85" y="336.35" width="7.45" height="7.95" fill="#40e0c0"/>
<rect x="121.70" y="336.35" width="14.30" height="7.95" fill="#00c0f0"/>
<rect x="135.40" y="336.35" width="7.45" height="7.95" fill="#0060f0"/>
<rect x="142.25" y="336.35" width="7.45" height="7.95" fill="#00e0f0"/>
<rect x="149.10" y="336.35" width="21.15" height="7.95" fill="#00d0f0"/>
<rect x="169.65" y="336.35" width="21.15" height="7.95" fill="#e3e3e5"/>
<rect x="190.20" y="336.35" width="7.45" height="7.95" fill="#0090f0"/>
<rect x="197.05" y="336.35" width="4.15" height="7.95" fill="#e3e3e5"/>
<rect x="66.90" y="343.70" width="28.00" height="7.95" fill="#e3e3e5"/>
<rect x="94.30" y="343.70" width="7.45" height="7.95" fill="#0010e0"/>
<rect x="101.15" y="343.70" width="7.45" height="7.95" fill="#0060f0"/>
<rect x="108.00" y="343.70" width="14.30" height="7.95" fill="#e3e3e5"/>
<rect x="121.70" y="343.70" width="7.45" height="7.95" fill="#0040f0"/>
<rect x="128.55" y="343.70" width="7.45" height="7.95" fill="#0000c0"/>
<rect x="135.40" y="343.70" width="7.45" height="7.95" fill="#0020e0"/>
<rect x="142.25" y="343.70" width="7.45" height="7.95" fill="#80f060"/>
<rect x="149.10" y="343.70" width="7.45" height="7.95" fill="#60e0a0"/>
<rect x="155.95" y="343.70" width="7.45" height="7.95" fill="#0050f0"/>
<rect x="162.80" y="343.70" width="7.45" height="7.95" fill="#0000c0"/>
<rect x="169.65" y="343.70" width="31.55" height="7.95" fill="#e3e3e5"/>
<rect x="66.90" y="351.05" width="75.95" height="7.95" fill="#e3e3e5"/>
<rect x="142.25" y="351.05" width="7.45" height="7.95" fill="#00a0f0"/>
<rect x="149.10" y="351.05" width="52.10" height="7.95" fill="#e3e3e5"/>
<rect x="66.90" y="358.40" width="62.25" height="2.50" fill="#e3e3e5"/>
<rect x="128.55" y="358.40" width="7.45" height="2.50" fill="#0070f0"/>
<rect x="135.40" y="358.40" width="7.45" height="2.50" fill="#e3e3e5"/>
<rect x="142.25" y="358.40" width="7.45" height="2.50" fill="#0020e0"/>
<rect x="149.10" y="358.40" width="52.10" height="2.50" fill="#e3e3e5"/>
<rect x="397.20" y="226.40" width="48.55" height="7.95" fill="#ffffff"/>
<rect x="445.15" y="226.40" width="7.45" height="7.95" fill="#000060"/>
<rect x="452.00" y="226.40" width="81.90" height="7.95" fill="#ffffff"/>
<rect x="397.20" y="233.75" width="7.45" height="7.95" fill="#ffffff"/>
<rect x="404.05" y="233.75" width="55.40" height="7.95" fill="#e3e3e5"/>
<rect x="458.85" y="233.75" width="7.45" height="7.95" fill="#0000a0"/>
<rect x="465.70" y="233.75" width="7.45" height="7.95" fill="#000008"/>
<rect x="472.55" y="233.75" width="14.30" height="7.95" fill="#000070"/>
<rect x="486.25" y="233.75" width="7.45" height="7.95" fill="#e3e3e5"/>
<rect x="493.10" y="233.75" width="7.45" height="7.95" fill="#ffffff"/>
<rect x="499.95" y="233.75" width="7.45" height="7.95" fill="#e3e3e5"/>
<rect x="506.80" y="233.75" width="7.45" height="7.95" fill="#0010e0"/>
<rect x="513.65" y="233.75" width="7.45" height="7.95" fill="#ffffff"/>
<rect x="520.50" y="233.75" width="7.45" height="7.95" fill="#e3e3e5"/>
<rect x="527.35" y="233.75" width="6.55" height="7.95" fill="#ffffff"/>
<rect x="397.20" y="241.10" width="89.65" height="7.95" fill="#e3e3e5"/>
<rect x="486.25" y="241.10" width="14.30" height="7.95" fill="#0000c0"/>
<rect x="499.95" y="241.10" width="7.45" height="7.95" fill="#0010e0"/>
<rect x="506.80" y="241.10" width="7.45" height="7.95" fill="#0000d0"/>
<rect x="513.65" y="241.10" width="20.25" height="7.95" fill="#e3e3e5"/>
<rect x="397.20" y="248.45" width="14.30" height="7.95" fill="#000008"/>
<rect x="410.90" y="248.45" width="7.45" height="7.95" fill="#e3e3e5"/>
<rect x="417.75" y="248.45" width="21.15" height="7.95" fill="#000090"/>
<rect x="438.30" y="248.45" width="7.45" height="7.95" fill="#0000b0"/>
<rect x="445.15" y="248.45" width="28.00" height="7.95" fill="#e3e3e5"/>
<rect x="472.55" y="248.45" width="14.30" height="7.95" fill="#0010e0"/>
<rect x="486.25" y="248.45" width="14.30" height="7.95" fill="#e3e3e5"/>
<rect x="499.95" y="248.45" width="7.45" height="7.95" fill="#0000d0"/>
<rect x="506.80" y="248.45" width="7.45" height="7.95" fill="#e3e3e5"/>
<rect x="513.65" y="248.45" width="7.45" height="7.95" fill="#ffffff"/>
<rect x="520.50" y="248.45" width="13.40" height="7.95" fill="#e3e3e5"/>
<rect x="397.20" y="255.80" width="14.30" height="7.95" fill="#e3e3e5"/>
<rect x="410.90" y="255.80" width="7.45" height="7.95" fill="#0060f0"/>
<rect x="417.75" y="255.80" width="7.45" height="7.95" fill="#0000c0"/>
<rect x="424.60" y="255.80" width="7.45" height="7.95" fill="#0040f0"/>
<rect x="431.45" y="255.80" width="14.30" height="7.95" fill="#0000d0"/>
<rect x="445.15" y="255.80" width="14.30" height="7.95" fill="#e3e3e5"/>
<rect x="458.85" y="255.80" width="7.45" height="7.95" fill="#0010e0"/>
<rect x="465.70" y="255.80" width="7.45" height="7.95" fill="#0020f0"/>
<rect x="472.55" y="255.80" width="7.45" height="7.95" fill="#0010e0"/>
<rect x="479.40" y="255.80" width="14.30" height="7.95" fill="#ffffff"/>
<rect x="493.10" y="255.80" width="7.45" height="7.95" fill="#e3e3e5"/>
<rect x="499.95" y="255.80" width="7.45" height="7.95" fill="#0000d0"/>
<rect x="506.80" y="255.80" width="27.10" height="7.95" fill="#e3e3e5"/>
<rect x="397.20" y="263.15" width="14.30" height="7.95" fill="#ffffff"/>
<rect x="410.90" y="263.15" width="7.45" height="7.95" fill="#e3e3e5"/>
<rect x="417.75" y="263.15" width="7.45" height="7.95" fill="#0020e0"/>
<rect x="424.60" y="263.15" width="7.45" height="7.95" fill="#0030f0"/>
<rect x="431.45" y="263.15" width="7.45" height="7.95" fill="#e3e3e5"/>
<rect x="438.30" y="263.15" width="7.45" height="7.95" fill="#f0f000"/>
<rect x="445.15" y="263.15" width="7.45" height="7.95" fill="#20d0e0"/>
<rect x="452.00" y="263.15" width="7.45" height="7.95" fill="#60e0a0"/>
<rect x="458.85" y="263.15" width="7.45" height="7.95" fill="#0020e0"/>
<rect x="465.70" y="263.15" width="7.45" height="7.95" fill="#0080f0"/>
<rect x="472.55" y="263.15" width="7.45" height="7.95" fill="#0050f0"/>
<rect x="479.40" y="263.15" width="7.45" height="7.95" fill="#0010e0"/>
<rect x="486.25" y="263.15" width="14.30" height="7.95" fill="#000090"/>
<rect x="499.95" y="263.15" width="7.45" height="7.95" fill="#ffffff"/>
<rect x="506.80" y="263.15" width="27.10" height="7.95" fill="#e3e3e5"/>
<rect x="397.20" y="270.50" width="14.30" height="7.95" fill="#ffffff"/>
<rect x="410.90" y="270.50" width="7.45" height="7.95" fill="#0040f0"/>
<rect x="417.75" y="270.50" width="7.45" height="7.95" fill="#e3e3e5"/>
<rect x="424.60" y="270.50" width="7.45" height="7.95" fill="#0030f0"/>
<rect x="431.45" y="270.50" width="7.45" height="7.95" fill="#e3e3e5"/>
<rect x="438.30" y="270.50" width="7.45" height="7.95" fill="#20d0e0"/>
<rect x="445.15" y="270.50" width="7.45" height="7.95" fill="#e3e3e5"/>
<rect x="452.00" y="270.50" width="7.45" height="7.95" fill="#ffb000"/>
<rect x="458.85" y="270.50" width="7.45" height="7.95" fill="#ff7000"/>
<rect x="465.70" y="270.50" width="7.45" height="7.95" fill="#60e0a0"/>
<rect x="472.55" y="270.50" width="7.45" height="7.95" fill="#0060f0"/>
<rect x="479.40" y="270.50" width="7.45" height="7.95" fill="#0050f0"/>
<rect x="486.25" y="270.50" width="7.45" height="7.95" fill="#0010e0"/>
<rect x="493.10" y="270.50" width="7.45" height="7.95" fill="#ffffff"/>
<rect x="499.95" y="270.50" width="33.95" height="7.95" fill="#e3e3e5"/>
<rect x="397.20" y="277.85" width="14.30" height="7.95" fill="#ffffff"/>
<rect x="410.90" y="277.85" width="7.45" height="7.95" fill="#0010e0"/>
<rect x="417.75" y="277.85" width="7.45" height="7.95" fill="#e3e3e5"/>
<rect x="424.60" y="277.85" width="7.45" height="7.95" fill="#00b0f0"/>
<rect x="431.45" y="277.85" width="7.45" height="7.95" fill="#e3e3e5"/>
<rect x="438.30" y="277.85" width="7.45" height="7.95" fill="#0040f0"/>
<rect x="445.15" y="277.85" width="21.15" height="7.95" fill="#e3e3e5"/>
<rect x="465.70" y="277.85" width="7.45" height="7.95" fill="#20e0e0"/>
<rect x="472.55" y="277.85" width="7.45" height="7.95" fill="#0090f0"/>
<rect x="479.40" y="277.85" width="7.45" height="7.95" fill="#e3e3e5"/>
<rect x="486.25" y="277.85" width="7.45" height="7.95" fill="#0050f0"/>
<rect x="493.10" y="277.85" width="7.45" height="7.95" fill="#0040f0"/>
<rect x="499.95" y="277.85" width="7.45" height="7.95" fill="#e3e3e5"/>
<rect x="506.80" y="277.85" width="21.15" height="7.95" fill="#ffffff"/>
<rect x="527.35" y="277.85" width="6.55" height="7.95" fill="#e3e3e5"/>
<rect x="397.20" y="285.20" width="14.30" height="7.95" fill="#ffffff"/>
<rect x="410.90" y="285.20" width="7.45" height="7.95" fill="#0040f0"/>
<rect x="417.75" y="285.20" width="7.45" height="7.95" fill="#0050f0"/>
<rect x="424.60" y="285.20" width="7.45" height="7.95" fill="#0030e0"/>
<rect x="431.45" y="285.20" width="7.45" height="7.95" fill="#e3e3e5"/>
<rect x="438.30" y="285.20" width="7.45" height="7.95" fill="#00c0f0"/>
<rect x="445.15" y="285.20" width="7.45" height="7.95" fill="#f0f020"/>
<rect x="452.00" y="285.20" width="7.45" height="7.95" fill="#0060f0"/>
<rect x="458.85" y="285.20" width="7.45" height="7.95" fill="#c0f040"/>
<rect x="465.70" y="285.20" width="7.45" height="7.95" fill="#e3e3e5"/>
<rect x="472.55" y="285.20" width="7.45" height="7.95" fill="#0000c0"/>
<rect x="479.40" y="285.20" width="7.45" height="7.95" fill="#00b0f0"/>
<rect x="486.25" y="285.20" width="7.45" height="7.95" fill="#ffffff"/>
<rect x="493.10" y="285.20" width="7.45" height="7.95" fill="#0010e0"/>
<rect x="499.95" y="285.20" width="28.00" height="7.95" fill="#ffffff"/>
<rect x="527.35" y="285.20" width="6.55" height="7.95" fill="#e3e3e5"/>
<rect x="397.20" y="292.55" width="14.30" height="7.95" fill="#ffffff"/>
<rect x="410.90" y="292.55" width="7.45" height="7.95" fill="#0020e0"/>
<rect x="417.75" y="292.55" width="7.45" height="7.95" fill="#0040f0"/>
<rect x="424.60" y="292.55" width="7.45" height="7.95" fill="#e3e3e5"/>
<rect x="431.45" y="292.55" width="7.45" height="7.95" fill="#00d0f0"/>
<rect x="438.30" y="292.55" width="7.45" height="7.95" fill="#00b0f0"/>
<rect x="445.15" y="292.55" width="7.45" height="7.95" fill="#c0f040"/>
<rect x="452.00" y="292.55" width="7.45" height="7.95" fill="#80f080"/>
<rect x="458.85" y="292.55" width="7.45" height="7.95" fill="#60f0a0"/>
<rect x="465.70" y="292.55" width="7.45" height="7.95" fill="#a0f060"/>
<rect x="472.55" y="292.55" width="7.45" height="7.95" fill="#0060f0"/>
<rect x="479.40" y="292.55" width="7.45" height="7.95" fill="#00d0f0"/>
<rect x="486.25" y="292.55" width="7.45" height="7.95" fill="#e0f020"/>
<rect x="493.10" y="292.55" width="7.45" height="7.95" fill="#e3e3e5"/>
<rect x="499.95" y="292.55" width="28.00" height="7.95" fill="#ffffff"/>
<rect x="527.35" y="292.55" width="6.55" height="7.95" fill="#0000c0"/>
<rect x="397.20" y="299.90" width="7.45" height="7.95" fill="#ffffff"/>
<rect x="404.05" y="299.90" width="7.45" height="7.95" fill="#e3e3e5"/>
<rect x="410.90" y="299.90" width="7.45" height="7.95" fill="#0010d0"/>
<rect x="417.75" y="299.90" width="7.45" height="7.95" fill="#0010e0"/>
<rect x="424.60" y="299.90" width="7.45" height="7.95" fill="#80e060"/>
<rect x="431.45" y="299.90" width="7.45" height="7.95" fill="#0040f0"/>
<rect x="438.30" y="299.90" width="7.45" height="7.95" fill="#20d0e0"/>
<rect x="445.15" y="299.90" width="7.45" height="7.95" fill="#20e0e0"/>
<rect x="452.00" y="299.90" width="7.45" height="7.95" fill="#00b0f0"/>
<rect x="458.85" y="299.90" width="7.45" height="7.95" fill="#0030f0"/>
<rect x="465.70" y="299.90" width="7.45" height="7.95" fill="#00d0f0"/>
<rect x="472.55" y="299.90" width="7.45" height="7.95" fill="#40e0c0"/>
<rect x="479.40" y="299.90" width="7.45" height="7.95" fill="#20e0e0"/>
<rect x="486.25" y="299.90" width="7.45" height="7.95" fill="#f0f020"/>
<rect x="493.10" y="299.90" width="7.45" height="7.95" fill="#e3e3e5"/>
<rect x="499.95" y="299.90" width="28.00" height="7.95" fill="#ffffff"/>
<rect x="527.35" y="299.90" width="6.55" height="7.95" fill="#0000c0"/>
<rect x="397.20" y="307.25" width="7.45" height="7.95" fill="#000080"/>
<rect x="404.05" y="307.25" width="7.45" height="7.95" fill="#ffffff"/>
<rect x="410.90" y="307.25" width="7.45" height="7.95" fill="#000080"/>
<rect x="417.75" y="307.25" width="7.45" height="7.95" fill="#0000a0"/>
<rect x="424.60" y="307.25" width="7.45" height="7.95" fill="#e3e3e5"/>
<rect x="431.45" y="307.25" width="7.45" height="7.95" fill="#0020e0"/>
<rect x="438.30" y="307.25" width="7.45" height="7.95" fill="#00b0f0"/>
<rect x="445.15" y="307.25" width="7.45" height="7.95" fill="#00d0f0"/>
<rect x="452.00" y="307.25" width="7.45" height="7.95" fill="#00b0f0"/>
<rect x="458.85" y="307.25" width="7.45" height="7.95" fill="#0010e0"/>
<rect x="465.70" y="307.25" width="14.30" height="7.95" fill="#00c0f0"/>
<rect x="479.40" y="307.25" width="7.45" height="7.95" fill="#0040f0"/>
<rect x="486.25" y="307.25" width="7.45" height="7.95" fill="#00e0f0"/>
<rect x="493.10" y="307.25" width="7.45" height="7.95" fill="#e3e3e5"/>
<rect x="499.95" y="307.25" width="21.15" height="7.95" fill="#ffffff"/>
<rect x="520.50" y="307.25" width="7.45" height="7.95" fill="#00c0f0"/>
<rect x="527.35" y="307.25" width="6.55" height="7.95" fill="#0010e0"/>
<rect x="397.20" y="314.60" width="7.45" height="7.95" fill="#000008"/>
<rect x="404.05" y="314.60" width="7.45" height="7.95" fill="#000020"/>
<rect x="410.90" y="314.60" width="7.45" height="7.95" fill="#000070"/>
<rect x="417.75" y="314.60" width="7.45" height="7.95" fill="#0000a0"/>
<rect x="424.60" y="314.60" width="7.45" height="7.95" fill="#0030f0"/>
<rect x="431.45" y="314.60" width="7.45" height="7.95" fill="#0010e0"/>
<rect x="438.30" y="314.60" width="7.45" height="7.95" fill="#0020e0"/>
<rect x="445.15" y="314.60" width="7.45" height="7.95" fill="#0040f0"/>
<rect x="452.00" y="314.60" width="7.45" height="7.95" fill="#00b0f0"/>
<rect x="458.85" y="314.60" width="7.45" height="7.95" fill="#0050f0"/>
<rect x="465.70" y="314.60" width="7.45" height="7.95" fill="#00c0f0"/>
<rect x="472.55" y="314.60" width="7.45" height="7.95" fill="#0040f0"/>
<rect x="479.40" y="314.60" width="7.45" height="7.95" fill="#20e0e0"/>
<rect x="486.25" y="314.60" width="7.45" height="7.95" fill="#40e0c0"/>
<rect x="493.10" y="314.60" width="7.45" height="7.95" fill="#ffffff"/>
<rect x="499.95" y="314.60" width="7.45" height="7.95" fill="#20e0e0"/>
<rect x="506.80" y="314.60" width="7.45" height="7.95" fill="#ffffff"/>
<rect x="513.65" y="314.60" width="7.45" height="7.95" fill="#e3e3e5"/>
<rect x="520.50" y="314.60" width="7.45" height="7.95" fill="#0010e0"/>
<rect x="527.35" y="314.60" width="6.55" height="7.95" fill="#0020e0"/>
<rect x="397.20" y="321.95" width="7.45" height="7.95" fill="#e3e3e5"/>
<rect x="404.05" y="321.95" width="7.45" height="7.95" fill="#0000a0"/>
<rect x="410.90" y="321.95" width="7.45" height="7.95" fill="#0000d0"/>
<rect x="417.75" y="321.95" width="7.45" height="7.95" fill="#000008"/>
<rect x="424.60" y="321.95" width="7.45" height="7.95" fill="#0050f0"/>
<rect x="431.45" y="321.95" width="14.30" height="7.95" fill="#0020e0"/>
<rect x="445.15" y="321.95" width="7.45" height="7.95" fill="#0040f0"/>
<rect x="452.00" y="321.95" width="7.45" height="7.95" fill="#0010e0"/>
<rect x="458.85" y="321.95" width="7.45" height="7.95" fill="#0040f0"/>
<rect x="465.70" y="321.95" width="7.45" height="7.95" fill="#0090f0"/>
<rect x="472.55" y="321.95" width="7.45" height="7.95" fill="#00d0f0"/>
<rect x="479.40" y="321.95" width="14.30" height="7.95" fill="#00e0f0"/>
<rect x="493.10" y="321.95" width="7.45" height="7.95" fill="#00b0f0"/>
<rect x="499.95" y="321.95" width="7.45" height="7.95" fill="#ffffff"/>
<rect x="506.80" y="321.95" width="14.30" height="7.95" fill="#e3e3e5"/>
<rect x="520.50" y="321.95" width="7.45" height="7.95" fill="#0010e0"/>
<rect x="527.35" y="321.95" width="6.55" height="7.95" fill="#0010d0"/>
<rect x="397.20" y="329.30" width="7.45" height="7.95" fill="#e3e3e5"/>
<rect x="404.05" y="329.30" width="7.45" height="7.95" fill="#000008"/>
<rect x="410.90" y="329.30" width="7.45" height="7.95" fill="#00c0f0"/>
<rect x="417.75" y="329.30" width="7.45" height="7.95" fill="#e3e3e5"/>
<rect x="424.60" y="329.30" width="7.45" height="7.95" fill="#0050f0"/>
<rect x="431.45" y="329.30" width="7.45" height="7.95" fill="#00d0f0"/>
<rect x="438.30" y="329.30" width="7.45" height="7.95" fill="#20e0e0"/>
<rect x="445.15" y="329.30" width="7.45" height="7.95" fill="#0090f0"/>
<rect x="452.00" y="329.30" width="7.45" height="7.95" fill="#00a0f0"/>
<rect x="458.85" y="329.30" width="7.45" height="7.95" fill="#e3e3e5"/>
<rect x="465.70" y="329.30" width="7.45" height="7.95" fill="#0010d0"/>
<rect x="472.55" y="329.30" width="7.45" height="7.95" fill="#40e0c0"/>
<rect x="479.40" y="329.30" width="14.30" height="7.95" fill="#00e0f0"/>
<rect x="493.10" y="329.30" width="7.45" height="7.95" fill="#0090f0"/>
<rect x="499.95" y="329.30" width="14.30" height="7.95" fill="#e3e3e5"/>
<rect x="513.65" y="329.30" width="7.45" height="7.95" fill="#0010e0"/>
<rect x="520.50" y="329.30" width="7.45" height="7.95" fill="#0000c0"/>
<rect x="527.35" y="329.30" width="6.55" height="7.95" fill="#000008"/>
<rect x="397.20" y="336.65" width="7.45" height="7.95" fill="#e3e3e5"/>
<rect x="404.05" y="336.65" width="7.45" height="7.95" fill="#000060"/>
<rect x="410.90" y="336.65" width="21.15" height="7.95" fill="#e3e3e5"/>
<rect x="431.45" y="336.65" width="7.45" height="7.95" fill="#00b0f0"/>
<rect x="438.30" y="336.65" width="7.45" height="7.95" fill="#0050f0"/>
<rect x="445.15" y="336.65" width="7.45" height="7.95" fill="#00b0f0"/>
<rect x="452.00" y="336.65" width="7.45" height="7.95" fill="#00a0f0"/>
<rect x="458.85" y="336.65" width="7.45" height="7.95" fill="#e3e3e5"/>
<rect x="465.70" y="336.65" width="7.45" height="7.95" fill="#000080"/>
<rect x="472.55" y="336.65" width="7.45" height="7.95" fill="#00e0f0"/>
<rect x="479.40" y="336.65" width="14.30" height="7.95" fill="#0020e0"/>
<rect x="493.10" y="336.65" width="7.45" height="7.95" fill="#0080f0"/>
<rect x="499.95" y="336.65" width="7.45" height="7.95" fill="#e3e3e5"/>
<rect x="506.80" y="336.65" width="7.45" height="7.95" fill="#0010e0"/>
<rect x="513.65" y="336.65" width="7.45" height="7.95" fill="#0010d0"/>
<rect x="520.50" y="336.65" width="7.45" height="7.95" fill="#0040f0"/>
<rect x="527.35" y="336.65" width="6.55" height="7.95" fill="#e3e3e5"/>
<rect x="397.20" y="344.00" width="14.30" height="7.95" fill="#e3e3e5"/>
<rect x="410.90" y="344.00" width="7.45" height="7.95" fill="#000008"/>
<rect x="417.75" y="344.00" width="14.30" height="7.95" fill="#e3e3e5"/>
<rect x="431.45" y="344.00" width="7.45" height="7.95" fill="#0000b0"/>
<rect x="438.30" y="344.00" width="7.45" height="7.95" fill="#000008"/>
<rect x="445.15" y="344.00" width="7.45" height="7.95" fill="#000080"/>
<rect x="452.00" y="344.00" width="7.45" height="7.95" fill="#0000a0"/>
<rect x="458.85" y="344.00" width="7.45" height="7.95" fill="#000060"/>
<rect x="465.70" y="344.00" width="7.45" height="7.95" fill="#000080"/>
<rect x="472.55" y="344.00" width="7.45" height="7.95" fill="#0070f0"/>
<rect x="479.40" y="344.00" width="7.45" height="7.95" fill="#0000a0"/>
<rect x="486.25" y="344.00" width="7.45" height="7.95" fill="#0000b0"/>
<rect x="493.10" y="344.00" width="14.30" height="7.95" fill="#0010e0"/>
<rect x="506.80" y="344.00" width="7.45" height="7.95" fill="#000008"/>
<rect x="513.65" y="344.00" width="7.45" height="7.95" fill="#0010d0"/>
<rect x="520.50" y="344.00" width="7.45" height="7.95" fill="#0030f0"/>
<rect x="527.35" y="344.00" width="6.55" height="7.95" fill="#e3e3e5"/>
<rect x="397.20" y="351.35" width="14.30" height="7.95" fill="#e3e3e5"/>
<rect x="410.90" y="351.35" width="7.45" height="7.95" fill="#000008"/>
<rect x="417.75" y="351.35" width="41.70" height="7.95" fill="#e3e3e5"/>
<rect x="458.85" y="351.35" width="7.45" height="7.95" fill="#000008"/>
<rect x="465.70" y="351.35" width="7.45" height="7.95" fill="#e3e3e5"/>
<rect x="472.55" y="351.35" width="7.45" height="7.95" fill="#000080"/>
<rect x="479.40" y="351.35" width="14.30" height="7.95" fill="#e3e3e5"/>
<rect x="493.10" y="351.35" width="21.15" height="7.95" fill="#000008"/>
<rect x="513.65" y="351.35" width="20.25" height="7.95" fill="#e3e3e5"/>
<rect x="397.20" y="358.70" width="14.30" height="3.00" fill="#0000a0"/>
<rect x="410.90" y="358.70" width="21.15" height="3.00" fill="#ffffff"/>
<rect x="431.45" y="358.70" width="28.00" height="3.00" fill="#000008"/>
<rect x="458.85" y="358.70" width="28.00" height="3.00" fill="#0000c0"/>
<rect x="486.25" y="358.70" width="21.15" height="3.00" fill="#e3e3e5"/>
<rect x="506.80" y="358.70" width="7.45" height="3.00" fill="#000008"/>
<rect x="513.65" y="358.70" width="20.25" height="3.00" fill="#e3e3e5"/>
</g>
<rect x="69.20" y="17.50" width="137.20" height="135.50" fill="none" stroke="#000" stroke-width="2.0"/>
<rect x="65.50" y="226.90" width="137.20" height="135.80" fill="none" stroke="#000" stroke-width="2.0"/>
<rect x="396.20" y="226.20" width="137.70" height="135.50" fill="none" stroke="#000" stroke-width="2.0"/>
<rect x="135.4" y="70.9" width="5.0" height="5.0" fill="none" stroke="#ff0000" stroke-width="2.4"/>
<rect x="130.05" y="279.05" width="5.5" height="5.5" fill="#ffa000" stroke="#000" stroke-width="2.3"/>
<rect x="460.85" y="278.85" width="5.1" height="5.3" fill="#ffe000" stroke="#ff0000" stroke-width="2.3"/>
<rect x="121.90" y="149.70" width="1.2" height="4.3" fill="#000"/>
<rect x="121.90" y="16.50" width="1.2" height="7.3" fill="#000"/>
<rect x="181.40" y="149.70" width="1.2" height="4.3" fill="#000"/>
<rect x="181.40" y="16.50" width="1.2" height="7.3" fill="#000"/>
<rect x="68.20" y="78.80" width="4.3" height="1.2" fill="#000"/>
<rect x="203.10" y="78.80" width="4.3" height="1.2" fill="#000"/>
<rect x="68.20" y="143.90" width="4.3" height="1.2" fill="#000"/>
<rect x="203.10" y="143.90" width="4.3" height="1.2" fill="#000"/>
<rect x="118.30" y="359.40" width="1.2" height="4.3" fill="#000"/>
<rect x="118.30" y="225.90" width="1.2" height="7.3" fill="#000"/>
<rect x="177.20" y="359.40" width="1.2" height="4.3" fill="#000"/>
<rect x="177.20" y="225.90" width="1.2" height="7.3" fill="#000"/>
<rect x="64.50" y="289.40" width="4.3" height="1.2" fill="#000"/>
<rect x="199.40" y="289.40" width="4.3" height="1.2" fill="#000"/>
<rect x="64.50" y="354.90" width="4.3" height="1.2" fill="#000"/>
<rect x="199.40" y="354.90" width="4.3" height="1.2" fill="#000"/>
<rect x="448.70" y="358.40" width="1.2" height="4.3" fill="#000"/>
<rect x="448.70" y="225.20" width="1.2" height="7.3" fill="#000"/>
<rect x="507.70" y="358.40" width="1.2" height="4.3" fill="#000"/>
<rect x="507.70" y="225.20" width="1.2" height="7.3" fill="#000"/>
<rect x="395.20" y="288.70" width="4.3" height="1.2" fill="#000"/>
<rect x="530.60" y="288.70" width="4.3" height="1.2" fill="#000"/>
<rect x="395.20" y="353.60" width="4.3" height="1.2" fill="#000"/>
<rect x="530.60" y="353.60" width="4.3" height="1.2" fill="#000"/>
<rect x="259.2" y="21.8" width="13.5" height="126.7" fill="url(#jet)"/>
<rect x="259.45" y="22.05" width="13.0" height="126.2" fill="none" stroke="#333" stroke-opacity="0.6" stroke-width="0.5"/>
<rect x="259.2" y="32.20" width="2.4" height="1" fill="#000" fill-opacity="0.6"/>
<rect x="270.3" y="32.20" width="2.4" height="1" fill="#000" fill-opacity="0.6"/>
<rect x="259.2" y="52.90" width="2.4" height="1" fill="#000" fill-opacity="0.6"/>
<rect x="270.3" y="52.90" width="2.4" height="1" fill="#000" fill-opacity="0.6"/>
<rect x="259.2" y="85.00" width="2.4" height="1" fill="#000" fill-opacity="0.6"/>
<rect x="270.3" y="85.00" width="2.4" height="1" fill="#000" fill-opacity="0.6"/>
<rect x="259.2" y="116.50" width="2.4" height="1" fill="#000" fill-opacity="0.6"/>
<rect x="270.3" y="116.50" width="2.4" height="1" fill="#000" fill-opacity="0.6"/>
<rect x="259.2" y="142.80" width="2.4" height="1" fill="#000" fill-opacity="0.6"/>
<rect x="270.3" y="142.80" width="2.4" height="1" fill="#000" fill-opacity="0.6"/>
<rect x="253" y="230.6" width="13" height="126.9" fill="url(#jet)"/>
<rect x="253.25" y="230.85" width="12.5" height="126.4" fill="none" stroke="#333" stroke-opacity="0.6" stroke-width="0.5"/>
<rect x="253" y="237.90" width="2.4" height="1" fill="#000" fill-opacity="0.6"/>
<rect x="263.6" y="237.90" width="2.4" height="1" fill="#000" fill-opacity="0.6"/>
<rect x="253" y="262.30" width="2.4" height="1" fill="#000" fill-opacity="0.6"/>
<rect x="263.6" y="262.30" width="2.4" height="1" fill="#000" fill-opacity="0.6"/>
<rect x="253" y="294.90" width="2.4" height="1" fill="#000" fill-opacity="0.6"/>
<rect x="263.6" y="294.90" width="2.4" height="1" fill="#000" fill-opacity="0.6"/>
<rect x="253" y="325.10" width="2.4" height="1" fill="#000" fill-opacity="0.6"/>
<rect x="263.6" y="325.10" width="2.4" height="1" fill="#000" fill-opacity="0.6"/>
<rect x="253" y="353.20" width="2.4" height="1" fill="#000" fill-opacity="0.6"/>
<rect x="263.6" y="353.20" width="2.4" height="1" fill="#000" fill-opacity="0.6"/>
<rect x="582.8" y="234.9" width="13" height="126.6" fill="url(#jet)"/>
<rect x="583.05" y="235.15" width="12.5" height="126.1" fill="none" stroke="#333" stroke-opacity="0.6" stroke-width="0.5"/>
<rect x="582.8" y="239.50" width="2.4" height="1" fill="#000" fill-opacity="0.6"/>
<rect x="593.4" y="239.50" width="2.4" height="1" fill="#000" fill-opacity="0.6"/>
<rect x="582.8" y="265.10" width="2.4" height="1" fill="#000" fill-opacity="0.6"/>
<rect x="593.4" y="265.10" width="2.4" height="1" fill="#000" fill-opacity="0.6"/>
<rect x="582.8" y="297.20" width="2.4" height="1" fill="#000" fill-opacity="0.6"/>
<rect x="593.4" y="297.20" width="2.4" height="1" fill="#000" fill-opacity="0.6"/>
<rect x="582.8" y="329.50" width="2.4" height="1" fill="#000" fill-opacity="0.6"/>
<rect x="593.4" y="329.50" width="2.4" height="1" fill="#000" fill-opacity="0.6"/>
<rect x="582.8" y="356.30" width="2.4" height="1" fill="#000" fill-opacity="0.6"/>
<rect x="593.4" y="356.30" width="2.4" height="1" fill="#000" fill-opacity="0.6"/>
<rect x="332.7" y="87.5" width="195.4" height="84.4" fill="#fff" stroke="#222" stroke-width="1.6"/>
<g font-family="'Liberation Serif', serif" fill="#111" stroke="#111" stroke-width="0.22">
<text x="6.6" y="8" font-size="15.5" font-weight="bold" text-anchor="start">a</text>
<text x="4.2" y="29.3" font-size="12.5" font-weight="bold" text-anchor="start">MLat</text>
<text x="42.2" y="29.1" font-size="12.5" text-anchor="start">90°</text>
<text x="42.2" y="89" font-size="12.5" text-anchor="start">45°</text>
<text x="45.6" y="150.4" font-size="12.5" text-anchor="start">0°</text>
<text x="57.5" y="170.6" font-size="12.5" text-anchor="start">-80°</text>
<text x="111.5" y="170.6" font-size="12.5" text-anchor="start">-45°</text>
<text x="176.8" y="170.6" font-size="12.5" text-anchor="start">0°</text>
<text x="199.5" y="170.6" font-size="12.5" text-anchor="start">20°</text>
<text x="223.3" y="170.6" font-size="12.5" font-weight="bold" text-anchor="start">MLon</text>
<text x="258.4" y="10.8" font-size="12.5" font-weight="bold" text-anchor="start">Data (x 10 s)</text>
<text x="295.4" y="32.3" font-size="12.5" text-anchor="middle">100</text>
<text x="295.4" y="56.9" font-size="12.5" text-anchor="middle">75</text>
<text x="295.4" y="89.30000000000001" font-size="12.5" text-anchor="middle">50</text>
<text x="295.4" y="119.5" font-size="12.5" text-anchor="middle">25</text>
<text x="295.4" y="147.20000000000002" font-size="12.5" text-anchor="middle">0</text>
<text x="340.8" y="104.8" font-size="12.7" text-anchor="start">Data events</text>
<text x="340.8" y="120.0" font-size="12.7" text-anchor="start">B-fields detected events</text>
<text x="340.8" y="135.2" font-size="12.7" text-anchor="start">E-fields detected events</text>
<text x="340.8" y="166.2" font-size="12.7" text-anchor="start">10 seconds PFX data = 1 event</text>
<text x="519.3" y="104.8" font-size="12.5" font-weight="bold" text-anchor="end">4487</text>
<text x="519.3" y="120.0" font-size="12.5" font-weight="bold" text-anchor="end">1587</text>
<text x="519.3" y="135.2" font-size="12.5" font-weight="bold" text-anchor="end">1785</text>
<text x="6.8" y="212.2" font-size="16" font-weight="bold" text-anchor="start">b</text>
<text x="0.8" y="238.9" font-size="12.5" font-weight="bold" text-anchor="start">MLat</text>
<text x="38.8" y="239.3" font-size="12.5" text-anchor="start">90°</text>
<text x="39" y="298.8" font-size="12.5" text-anchor="start">45°</text>
<text x="43" y="360.3" font-size="12.5" text-anchor="start">0°</text>
<text x="54.5" y="379.6" font-size="12.5" text-anchor="start">-80°</text>
<text x="107.7" y="379" font-size="12.5" text-anchor="start">-45°</text>
<text x="172.6" y="379" font-size="12.5" text-anchor="start">0°</text>
<text x="195.4" y="379" font-size="12.5" text-anchor="start">20°</text>
<text x="220.2" y="379" font-size="12.5" font-weight="bold" text-anchor="start">MLon</text>
<text x="253.7" y="204.6" font-size="12.5" font-weight="bold" text-anchor="start">Intensity</text>
<text x="253.7" y="220.2" font-size="12.5" font-weight="bold" text-anchor="start">dBT</text>
<text x="281" y="242.1" font-size="12.5" text-anchor="start">-260</text>
<text x="281" y="266.5" font-size="12.5" text-anchor="start">-267</text>
<text x="281" y="299.09999999999997" font-size="12.5" text-anchor="start">-275</text>
<text x="281" y="329.3" font-size="12.5" text-anchor="start">-282</text>
<text x="281" y="357.4" font-size="12.5" text-anchor="start">-290</text>
<text x="331.4" y="208.2" font-size="15.5" font-weight="bold" text-anchor="start">c</text>
<text x="330.4" y="238.6" font-size="12.5" font-weight="bold" text-anchor="start">MLat</text>
<text x="368.5" y="238.8" font-size="12.5" text-anchor="start">90°</text>
<text x="369" y="298" font-size="12.5" text-anchor="start">45°</text>
<text x="370.3" y="359" font-size="12.5" text-anchor="start">0°</text>
<text x="384.7" y="378.8" font-size="12.5" text-anchor="start">-80°</text>
<text x="437.8" y="378.8" font-size="12.5" text-anchor="start">-45°</text>
<text x="503.3" y="378.8" font-size="12.5" text-anchor="start">0°</text>
<text x="524.2" y="378.8" font-size="12.5" text-anchor="start">20°</text>
<text x="548.6" y="378.8" font-size="12.5" font-weight="bold" text-anchor="start">MLon</text>
<text x="582.8" y="210" font-size="12.5" font-weight="bold" text-anchor="start">Intensity</text>
<text x="582.8" y="225.4" font-size="12.5" font-weight="bold" text-anchor="start">dBV/m</text>
<text x="613.4" y="244.0" font-size="12.5" text-anchor="start">-110</text>
<text x="613.4" y="269.6" font-size="12.5" text-anchor="start">-120</text>
<text x="613.4" y="301.7" font-size="12.5" text-anchor="start">-130</text>
<text x="613.4" y="334.0" font-size="12.5" text-anchor="start">-140</text>
<text x="613.4" y="360.8" font-size="12.5" text-anchor="start">-150</text>
</g>
</svg>
</body></html>
